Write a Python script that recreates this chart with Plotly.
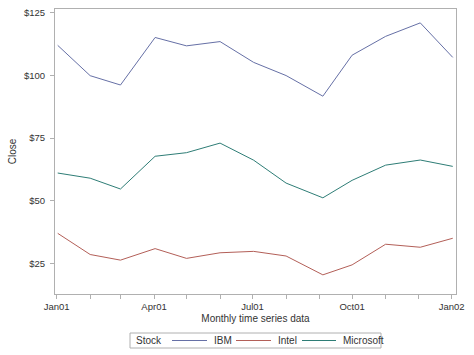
import plotly.graph_objects as go

dates = ["2001-01-02", "2001-02-01", "2001-03-01", "2001-04-02", "2001-05-01", "2001-06-01",
         "2001-07-02", "2001-08-01", "2001-09-04", "2001-10-01", "2001-11-01", "2001-12-03",
         "2002-01-02"]
ibm = [112.00, 99.90, 96.18, 115.14, 111.80, 113.50, 105.21, 99.95, 91.72, 108.07, 115.59, 120.96, 107.20]
intel = [37.00, 28.56, 26.31, 30.91, 27.01, 29.25, 29.81, 27.96, 20.44, 24.42, 32.66, 31.45, 35.04]
microsoft = [61.06, 59.00, 54.69, 67.75, 69.18, 73.00, 66.19, 57.05, 51.17, 58.15, 64.21, 66.25, 63.71]

tick_dates = ["2001-01-01", "2001-02-01", "2001-03-01", "2001-04-01", "2001-05-01", "2001-06-01",
              "2001-07-01", "2001-08-01", "2001-09-01", "2001-10-01", "2001-11-01", "2001-12-01",
              "2002-01-01"]
tick_labels = ["Jan01", "", "", "Apr01", "", "", "Jul01", "", "", "Oct01", "", "", "Jan02"]
y_ticks = [25, 50, 75, 100, 125]
y_labels = ["$25", "$50", "$75", "$100", "$125"]

series = [("IBM", ibm, "#6670a6"), ("Intel", intel, "#b35f58"), ("Microsoft", microsoft, "#2e7d76")]

W, H = 474, 355
ML, MR, MT, MB = 55, 18, 9, 61
PW, PH = W - ML - MR, H - MT - MB


def px(x):
    return (x - ML) / PW


def py(y):
    return (H - MB - y) / PH


fig = go.Figure()
for name, vals, col in series:
    fig.add_trace(go.Scatter(x=dates, y=vals, mode="lines", name=name,
                             line=dict(color=col, width=1), showlegend=False))

FAM = "Liberation Sans, Arial, sans-serif"
TXT = "#333333"
font = dict(family=FAM, size=10, color=TXT)
tickfont = dict(family=FAM, size=9.5, color=TXT)
titlefont = dict(family=FAM, size=10, color=TXT)

# legend drawn as layout decoration (box, samples, labels)
shapes = [dict(type="rect", xref="paper", yref="paper", x0=px(130), x1=px(381),
               y0=py(348), y1=py(333), line=dict(color="#b0b0b0", width=1))]
annotations = [dict(text="Stock", xref="paper", yref="paper", x=px(134), y=py(340.5),
                    xanchor="left", yanchor="middle", showarrow=False, font=titlefont)]
legend_pos = [(172, 207, 212), (236, 271, 276), (302, 336, 341)]
for (name, _, col), (l0, l1, tx) in zip(series, legend_pos):
    shapes.append(dict(type="line", xref="paper", yref="paper", x0=px(l0), x1=px(l1),
                       y0=py(340.5), y1=py(340.5), line=dict(color=col, width=1)))
    annotations.append(dict(text=name, xref="paper", yref="paper", x=px(tx), y=py(340.5),
                            xanchor="left", yanchor="middle", showarrow=False, font=titlefont))

fig.update_layout(
    width=W, height=H,
    margin=dict(l=ML, r=MR, t=MT, b=MB, autoexpand=False),
    paper_bgcolor="white", plot_bgcolor="white",
    font=font,
    showlegend=False,
    shapes=shapes,
    annotations=annotations,
    xaxis=dict(type="date", range=["2000-12-30 12:00", "2002-01-05"],
               tickvals=tick_dates, ticktext=tick_labels, ticks="outside", ticklen=4,
               tickcolor="#b0b0b0", showgrid=False, zeroline=False,
               showline=True, linecolor="#b0b0b0", mirror=True, tickfont=tickfont,
               ticklabelstandoff=0, ticklabeloverflow="allow",
               title=dict(text="Monthly time series data", standoff=3, font=titlefont)),
    yaxis=dict(range=[12.8, 126.5], tickvals=y_ticks, ticktext=y_labels, ticks="outside", ticklen=4,
               tickcolor="#b0b0b0", showgrid=False, zeroline=False,
               showline=True, linecolor="#b0b0b0", mirror=True, ticklabelstandoff=3,
               tickfont=tickfont,
               title=dict(text="Close", standoff=5, font=titlefont)),
)
fig.write_html("out.html", config={"displayModeBar": False},
               post_script="document.body.style.margin='0';")
